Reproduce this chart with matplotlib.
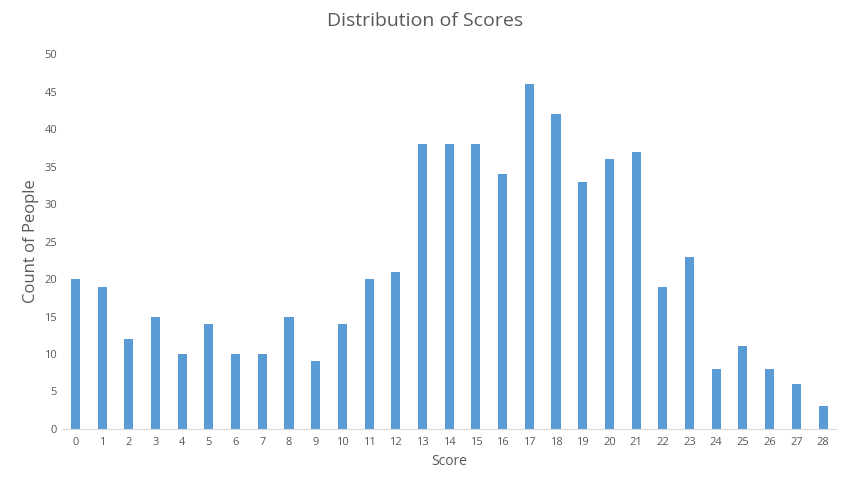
import matplotlib
matplotlib.use("Agg")
import matplotlib.pyplot as plt

scores = list(range(29))
counts = [20,19,12,15,10,14,10,10,15,9,14,20,21,38,38,38,34,46,42,33,36,37,19,23,8,11,8,6,3]
yticks = list(range(0, 51, 5))

plt.rcParams['font.family'] = ['Open Sans', 'DejaVu Sans']
fig = plt.figure(figsize=(8.5, 4.88), dpi=100)
ax = fig.add_axes([0.073, 0.121, 0.911, 0.768])
ax.bar(scores, counts, width=0.34, color='#5B9BD5')
ax.set_xlim(-0.5, 28.5)
ax.set_ylim(0, 50)
ax.set_xticks(scores)
ax.set_yticks(yticks)
ax.tick_params(axis='both', labelsize=8, colors='#595959', length=0)
ax.tick_params(axis='x', pad=6)
for s in ['top', 'right', 'left']:
    ax.spines[s].set_visible(False)
ax.spines['bottom'].set_color('#D9D9D9')
ax.set_xlabel('Score', fontsize=10, color='#595959')
ax.set_ylabel('Count of People', fontsize=12, color='#595959')
fig.suptitle('Distribution of Scores', fontsize=14, color='#595959', y=0.975)
fig.savefig('out.png', dpi=100)
